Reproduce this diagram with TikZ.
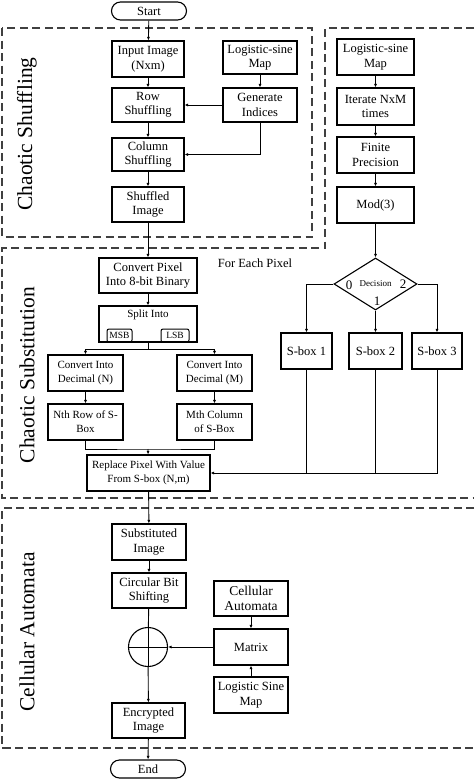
\documentclass[tikz,border=0pt]{standalone}
\usepackage{fontspec}
\setmainfont{Liberation Serif}
\usetikzlibrary{shapes.geometric,shapes.misc,arrows.meta,positioning}

\begin{document}
\begin{tikzpicture}[x=1pt,y=-1pt,
      box/.style={rectangle, draw=black, line width=1.1pt, inner sep=1pt, align=center, minimum width=74pt, minimum height=35pt, font=\fontsize{12.5}{14.5}\selectfont},
      sbox/.style={box, font=\fontsize{11}{14}\selectfont},
      bitbox/.style={rectangle, rounded corners=2pt, draw=black, line width=1pt, inner sep=0pt, minimum height=13pt, font=\fontsize{9.5}{10}\selectfont},
      term/.style={rounded rectangle, draw=black, line width=1.1pt, minimum width=75pt, minimum height=18pt, inner sep=0pt, font=\fontsize{12.5}{14}\selectfont},
      sect/.style={draw=black!75, line width=1.6pt, dash pattern=on 8pt off 4.5pt},
      sectlabel/.style={rotate=90, font=\fontsize{21.5}{24}\selectfont},
      pfeil/.style={-{Latex[length=3.5pt,width=3pt]}, line width=0.9pt},
      lin/.style={line width=0.9pt}]

\useasboundingbox (0,0) rectangle (474,779);

% dashed sections
\draw[sect] (2,28) rectangle (312,237);
\draw[sect] (474,28) -- (325,28) -- (325,248) -- (2,248) -- (2,498) -- (474,498);
\draw[sect] (474,508) -- (2,508) -- (2,748) -- (474,748);
\node[sectlabel] (lshuf) at (27,134) {Chaotic Shuffling};
\node[sectlabel] (lsubs) at (27,375) {Chaotic Substitution};
\node[sectlabel] (lca) at (27,632) {Cellular Automata};

% shuffling
\node[term] (start) at (149,11) {Start};
\node[box, minimum width=72pt, minimum height=36pt] (input) at (148,59) {Input Image\\(Nxm)};
\node[box, minimum height=33pt] (lsmapA) at (260,57.5) {Logistic-sine\\Map};
\node[box, minimum width=72pt, minimum height=34pt] (row) at (148,105) {Row\\Shuffling};
\node[box, minimum height=34pt] (gen) at (260,105) {Generate\\Indices};
\node[box, minimum width=72pt, minimum height=33pt] (col) at (148,154.5) {Column\\Shuffling};
\node[box, minimum width=72pt] (shuf) at (148,204.5) {Shuffled\\Image};

% s-box selection
\node[box, minimum width=77pt, minimum height=36pt] (lsmapB) at (375.5,57) {Logistic-sine\\Map};
\node[box, minimum width=77pt, minimum height=37pt] (iter) at (375.5,106.5) {Iterate NxM\\times};
\node[box, minimum width=77pt, minimum height=36pt] (finite) at (375.5,155) {Finite\\Precision};
\node[box, minimum width=77pt, minimum height=36pt] (mod) at (375.5,205) {Mod(3)};
\node[diamond, draw=black, line width=1.1pt, minimum width=83pt, minimum height=52pt, inner sep=0pt, aspect=1.6, font=\fontsize{9}{10}\selectfont] (dec) at (375.5,284) {Decision};
\node[font=\fontsize{13}{14}\selectfont] (d0) at (349,285) {0};
\node[font=\fontsize{13}{14}\selectfont] (d2) at (403,284) {2};
\node[font=\fontsize{13}{14}\selectfont] (d1) at (377,301) {1};
\node[box, minimum width=51pt, minimum height=36pt] (sbox1) at (306.5,351) {S-box 1};
\node[box, minimum width=53pt, minimum height=36pt] (sbox2) at (375.5,351) {S-box 2};
\node[box, minimum width=50pt, minimum height=36pt] (sbox3) at (437,351) {S-box 3};

% substitution
\node[box, minimum width=98pt] (conv) at (148,275.5) {Convert Pixel\\Into 8-bit Binary};
\node[font=\fontsize{12.5}{14}\selectfont] (each) at (255,263) {For Each Pixel};
\node[box, minimum width=98pt, minimum height=36pt] (split) at (148,324) {};
\node[font=\fontsize{11}{12}\selectfont] (splittxt) at (148,315) {Split Into};
\node[bitbox, minimum width=25pt] (msb) at (119.5,335.5) {MSB};
\node[bitbox, minimum width=28pt] (lsb) at (175,335.5) {LSB};
\node[sbox, minimum width=75pt, minimum height=36pt] (decN) at (85.5,373) {Convert Into\\Decimal (N)};
\node[sbox, minimum width=75pt, minimum height=36pt] (decM) at (214.5,373) {Convert Into\\Decimal (M)};
\node[sbox, minimum width=75pt, minimum height=36pt] (rowN) at (85.5,422) {Nth Row of S-\\Box};
\node[sbox, minimum width=75pt, minimum height=36pt] (colM) at (214.5,422) {Mth Column\\of S-Box};
\node[sbox, minimum width=123pt, minimum height=36pt] (repl) at (148.5,473) {Replace Pixel With Value\\From S-box (N,m)};
\coordinate (sp) at (148,349);
\coordinate (mg) at (148,449);

% cellular automata
\node[box, minimum height=36pt] (subst) at (149,542) {Substituted\\Image};
\node[box] (circ) at (149,590.5) {Circular Bit\\Shifting};
\node[circle, draw=black, line width=1.1pt, minimum size=39pt, inner sep=0pt] (xor) at (148,647) {};
\node[box, font=\fontsize{13.5}{15.5}\selectfont] (cellA) at (251,598.5) {Cellular\\Automata};
\node[box, minimum height=36pt] (matrix) at (251,647) {Matrix};
\node[box, minimum height=36pt] (lsmapC) at (251,695) {Logistic Sine\\Map};
\node[box, minimum width=73pt] (encr) at (148.5,720.5) {Encrypted\\Image};
\node[term] (fin) at (148,769) {End};

\draw[pfeil] (start) -- (input);
\draw[pfeil] (input) -- (row);
\draw[pfeil] (row) -- (col);
\draw[pfeil] (col) -- (shuf);
\draw[pfeil] (lsmapA) -- (gen);
\draw[pfeil] (gen) -- (row);
\draw[pfeil] (gen.south) |- (col.east);
\draw[pfeil] (shuf) -- (conv);

\draw[pfeil] (lsmapB) -- (iter);
\draw[pfeil] (iter) -- (finite);
\draw[pfeil] (finite) -- (mod);
\draw[pfeil] (mod) -- (dec);
\draw[pfeil] (dec.west) -| (sbox1.north);
\draw[pfeil] (dec.south) -- (sbox2.north);
\draw[pfeil] (dec.east) -| (sbox3.north);

\draw[pfeil] (conv) -- (split);
\draw[lin] (split.south) -- (sp);
\draw[pfeil] (sp) -| (decN.north);
\draw[pfeil] (sp) -| (decM.north);
\draw[pfeil] (decN) -- (rowN);
\draw[pfeil] (decM) -- (colM);
\draw[lin] (rowN.south) |- (mg) -| (colM.south);
\draw[pfeil] (mg) -- (repl);
\draw[lin] (sbox1.south) -- (sbox1.south |- repl.east);
\draw[lin] (sbox2.south) -- (sbox2.south |- repl.east);
\draw[pfeil] (sbox3.south) |- (repl.east);

\draw[pfeil] (repl) -- (subst);
\draw[pfeil] (subst) -- (circ);
\draw[lin] (circ) -- (xor);
\draw[lin] (xor.north) -- (xor.south);
\draw[lin] (xor.west) -- (xor.east);
\draw[pfeil] (cellA) -- (matrix);
\draw[pfeil] (lsmapC) -- (matrix);
\draw[pfeil] (matrix) -- (xor);
\draw[pfeil] (xor) -- (encr);
\draw[pfeil] (encr) -- (fin);

\end{tikzpicture}
\end{document}
